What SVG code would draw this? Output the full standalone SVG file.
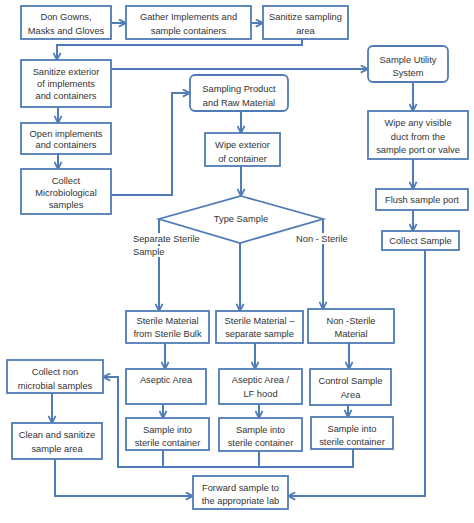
<svg xmlns="http://www.w3.org/2000/svg" width="474" height="523" viewBox="0 0 474 523">
<style>
.b{fill:#fff;stroke:#4f7cb6;stroke-width:1.8}
.c{fill:none;stroke:#4f7cb6;stroke-width:2}
.bg{fill:#fff;stroke:none}
text{font-family:"Liberation Sans",Arial,sans-serif;font-size:9.3px;fill:#333;text-anchor:middle}
.l{text-anchor:start}
</style>
<defs>
<marker id="a" viewBox="0 0 10 10" refX="9" refY="5" markerUnits="userSpaceOnUse" markerWidth="9" markerHeight="9" orient="auto">
<path d="M1,1 L9,5 L1,9" fill="none" stroke="#4f7cb6" stroke-width="2"/>
</marker>
</defs>
<rect width="474" height="523" fill="#fff"/>
<g id="connectors" class="c" marker-end="url(#a)">
<path d="M111,23 H126"/>
<path d="M251,23 H263"/>
<path d="M302,39 V45 H57 V60"/>
<path d="M111,69 H368"/>
<path d="M58,107 V123"/>
<path d="M58,154 V169"/>
<path d="M111,195 H172 V93 H190"/>
<path d="M241,111 V133"/>
<path d="M241,166 V196"/>
<path d="M159,219 V311"/>
<path d="M240,243 V311"/>
<path d="M323,219 V309"/>
<path d="M165,343 V369"/>
<path d="M255,343 V369"/>
<path d="M349,343 V369"/>
<path d="M163,404 V418"/>
<path d="M259,404 V418"/>
<path d="M348,405 V417"/>
<path d="M163,450 V467" marker-end="none"/>
<path d="M259,451 V467" marker-end="none"/>
<path d="M353,449 V467 H118 V377 H103"/>
<path d="M52,393 V423"/>
<path d="M55,459 V496 H193"/>
<path d="M413,82 V111"/>
<path d="M413,159 V189"/>
<path d="M413,210 V231"/>
<path d="M425,250 V496 H288"/>
</g>
<g id="n1"><rect class="b" x="21" y="6" width="90" height="33"/><text x="66" y="20">Don Gowns,</text><text x="66" y="34">Masks and Gloves</text></g>
<g id="n2"><rect class="b" x="126" y="6" width="125" height="33"/><text x="188.5" y="20">Gather Implements and</text><text x="188.5" y="34">sample containers</text></g>
<g id="n3"><rect class="b" x="263" y="6" width="85" height="33"/><text x="305.5" y="20">Sanitize sampling</text><text x="305.5" y="34">area</text></g>
<g id="n4"><rect class="b" x="21" y="60" width="90" height="47"/><text x="66" y="74.5">Sanitize exterior</text><text x="66" y="86.5">of implements</text><text x="66" y="98.5">and containers</text></g>
<g id="n5"><rect class="b" x="21" y="123" width="90" height="31"/><text x="66" y="136.5">Open implements</text><text x="66" y="148">and containers</text></g>
<g id="n6"><rect class="b" x="21" y="169" width="90" height="45"/><text x="66" y="183.5">Collect</text><text x="66" y="195.5">Microbiological</text><text x="66" y="207.5">samples</text></g>
<g id="n7"><rect class="b" x="368" y="46" width="80" height="36" rx="5"/><text x="408" y="62.5">Sample Utility</text><text x="408" y="76">System</text></g>
<g id="n8"><rect class="b" x="190" y="75" width="98" height="36" rx="5"/><text x="239" y="91.5">Sampling Product</text><text x="239" y="105.5">and Raw Material</text></g>
<g id="n9"><rect class="b" x="205" y="133" width="75" height="33"/><text x="242.5" y="147.5">Wipe exterior</text><text x="242.5" y="161.5">of container</text></g>
<g id="n10"><polygon class="b" points="241,196 323,219 240,243 159,219"/><text x="241" y="221.5">Type Sample</text></g>
<g id="labels">
<rect class="bg" x="131" y="233" width="70" height="11"/><rect class="bg" x="131" y="246" width="34" height="11"/><rect class="bg" x="294" y="233" width="58" height="11"/>
<text class="l" x="133" y="241.5">Separate Sterile</text><text class="l" x="133" y="255">Sample</text><text class="l" x="296" y="241.5">Non - Sterile</text></g>
<g id="n11"><rect class="b" x="126" y="311" width="83" height="32"/><text x="167.5" y="323.5">Sterile Material</text><text x="167.5" y="337">from Sterile Bulk</text></g>
<g id="n12"><rect class="b" x="216" y="311" width="87" height="32"/><text x="259.5" y="323.5">Sterile Material –</text><text x="259.5" y="337">separate sample</text></g>
<g id="n13"><rect class="b" x="308" y="309" width="86" height="34"/><text x="351" y="323.5">Non -Sterile</text><text x="351" y="337">Material</text></g>
<g id="n14"><rect class="b" x="126" y="369" width="80" height="35"/><text x="166" y="382.5">Aseptic Area</text></g>
<g id="n15"><rect class="b" x="219" y="369" width="83" height="35"/><text x="260.5" y="382.5">Aseptic Area /</text><text x="260.5" y="396.5">LF hood</text></g>
<g id="n16"><rect class="b" x="310" y="369" width="81" height="36"/><text x="350.5" y="383.5">Control Sample</text><text x="350.5" y="397.5">Area</text></g>
<g id="n17"><rect class="b" x="126" y="418" width="83" height="32"/><text x="167.5" y="432.5">Sample into</text><text x="167.5" y="446">sterile container</text></g>
<g id="n18"><rect class="b" x="219" y="418" width="83" height="33"/><text x="260.5" y="432.5">Sample into</text><text x="260.5" y="446">sterile container</text></g>
<g id="n19"><rect class="b" x="311" y="417" width="82" height="32"/><text x="352" y="431.5">Sample into</text><text x="352" y="445">sterile container</text></g>
<g id="n20"><rect class="b" x="7" y="360" width="96" height="33"/><text x="55" y="374.5">Collect non</text><text x="55" y="388.5">microbial samples</text></g>
<g id="n21"><rect class="b" x="12" y="423" width="90" height="36"/><text x="57" y="437.5">Clean and sanitize</text><text x="57" y="451.5">sample area</text></g>
<g id="n22"><rect class="b" x="193" y="476" width="95" height="33"/><text x="240.5" y="490.5">Forward sample to</text><text x="240.5" y="503.5">the appropriate lab</text></g>
<g id="n23"><rect class="b" x="368" y="111" width="100" height="48"/><text x="418" y="125.5">Wipe any visible</text><text x="418" y="139.5">duct from the</text><text x="418" y="152.5">sample port or valve</text></g>
<g id="n24"><rect class="b" x="376" y="189" width="92" height="21"/><text x="422" y="202.5">Flush sample port</text></g>
<g id="n25"><rect class="b" x="382" y="231" width="77" height="19"/><text x="420.5" y="243.5">Collect Sample</text></g>
</svg>
